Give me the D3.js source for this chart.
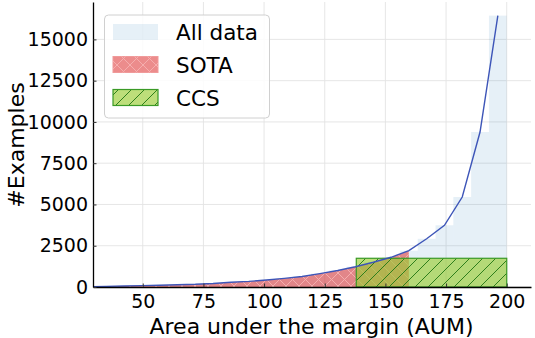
<!DOCTYPE html>
<html>
<head>
<meta charset="utf-8">
<script src="https://cdn.jsdelivr.net/npm/d3@7"></script>
<style>
body { margin: 0; background: #fff; }
text { font-family: "DejaVu Sans", sans-serif; }
</style>
</head>
<body>
<svg width="535" height="338"></svg>
<script>
// histogram bin edges and counts
var binEdges = [24, 31.33, 38.67, 46, 53.33, 60.67, 68, 75.33, 82.67, 90, 97.33, 104.67, 112,
    119.33, 126.67, 134, 141.33, 148.67, 156, 163.33, 170.67, 178, 185.33, 192.67, 200];
var counts = [20, 40, 60, 85, 110, 140, 165, 215, 290, 340, 420, 520, 640, 810, 1000, 1230,
    1500, 1800, 2200, 2920, 3740, 5450, 9390, 16440];
var sotaMax = 160;          // SOTA area covers the curve up to here
var ccsRange = [138, 200];  // CCS block
var ccsCount = 1740;
var xTicks = [50, 75, 100, 125, 150, 175, 200];
var yTicks = [0, 2500, 5000, 7500, 10000, 12500, 15000];
var legendNames = ["All data", "SOTA", "CCS"];

var pLeft = 93, pRight = 531, pTop = 2, pBottom = 287;
var svg = d3.select("svg");

var x = d3.scaleLinear().domain([29.5, 210]).range([pLeft, pRight]);
var y = d3.scaleLinear().domain([0, 17266]).range([pBottom, pTop]);

var bins = counts.map(function(c, i) {
    return {x0: binEdges[i], x1: binEdges[i + 1], xc: (binEdges[i] + binEdges[i + 1]) / 2, n: c};
});

var defs = svg.append("defs");
defs.append("clipPath").attr("id", "plotclip")
    .append("rect").attr("x", pLeft).attr("y", pTop)
    .attr("width", pRight - pLeft).attr("height", pBottom - pTop);

var px = defs.append("pattern").attr("id", "hatchx")
    .attr("patternUnits", "userSpaceOnUse").attr("width", 13).attr("height", 13);
px.append("path").attr("d", "M0,0L13,13M0,13L13,0")
    .attr("stroke", "#f5aeae").attr("stroke-width", 1);

var ps = defs.append("pattern").attr("id", "hatchs")
    .attr("patternUnits", "userSpaceOnUse").attr("width", 13).attr("height", 13);
ps.append("path").attr("d", "M0,13L13,0M-2,2L2,-2M11,15L15,11")
    .attr("stroke", "#2f7f1c").attr("stroke-width", 1);

// grid
svg.append("g").selectAll("line").data(xTicks).enter().append("line")
    .attr("x1", function(d) { return x(d); }).attr("x2", function(d) { return x(d); })
    .attr("y1", pTop).attr("y2", pBottom)
    .attr("stroke", "#e3e3e3").attr("stroke-width", 0.9);
svg.append("g").selectAll("line").data(yTicks).enter().append("line")
    .attr("x1", pLeft).attr("x2", pRight)
    .attr("y1", function(d) { return y(d); }).attr("y2", function(d) { return y(d); })
    .attr("stroke", "#e3e3e3").attr("stroke-width", 0.9);

var plot = svg.append("g").attr("clip-path", "url(#plotclip)");

// all data histogram
plot.selectAll("rect.bar").data(bins).enter().append("rect")
    .attr("class", "bar")
    .attr("x", function(d) { return x(d.x0); })
    .attr("width", function(d) { return x(d.x1) - x(d.x0); })
    .attr("y", function(d) { return y(d.n); })
    .attr("height", function(d) { return y(0) - y(d.n); })
    .attr("fill", "#1f77b4").attr("fill-opacity", 0.11);

// SOTA area
var sotaPts = bins.filter(function(d) { return d.xc <= sotaMax; });
var area = d3.area()
    .x(function(d) { return x(d.xc); })
    .y0(y(0))
    .y1(function(d) { return y(d.n); });
plot.append("path").datum(sotaPts).attr("d", area)
    .attr("fill", "#e04040").attr("fill-opacity", 0.6);
plot.append("path").datum(sotaPts).attr("d", area)
    .attr("fill", "url(#hatchx)");

// CCS block
var ccs = plot.append("g");
ccs.append("rect")
    .attr("x", x(ccsRange[0])).attr("width", x(ccsRange[1]) - x(ccsRange[0]))
    .attr("y", y(ccsCount)).attr("height", y(0) - y(ccsCount))
    .attr("fill", "#9acd32").attr("fill-opacity", 0.65);
ccs.append("rect")
    .attr("x", x(ccsRange[0])).attr("width", x(ccsRange[1]) - x(ccsRange[0]))
    .attr("y", y(ccsCount)).attr("height", y(0) - y(ccsCount))
    .attr("fill", "url(#hatchs)")
    .attr("stroke", "#3a9a26").attr("stroke-width", 1.2);

// curve
plot.append("path").datum(bins)
    .attr("d", d3.line().x(function(d) { return x(d.xc); }).y(function(d) { return y(d.n); }))
    .attr("fill", "none").attr("stroke", "#3d55b8").attr("stroke-width", 1.4);

// axes
var xAxis = d3.axisBottom(x).tickValues(xTicks).tickFormat(d3.format("d"))
    .tickSizeInner(-3.5).tickSizeOuter(0).tickPadding(8);
var yAxis = d3.axisLeft(y).tickValues(yTicks).tickFormat(d3.format("d"))
    .tickSizeInner(-3.5).tickSizeOuter(0).tickPadding(5);

var gx = svg.append("g").attr("transform", "translate(0," + pBottom + ")").call(xAxis);
var gy = svg.append("g").attr("transform", "translate(" + pLeft + ",0)").call(yAxis);
[gx, gy].forEach(function(g) {
    g.select(".domain").attr("stroke", "#000").attr("stroke-width", 1.3);
    g.selectAll(".tick line").attr("stroke", "#333").attr("stroke-width", 1);
    g.selectAll(".tick text").attr("fill", "#000")
        .style("font-family", "DejaVu Sans").style("font-size", "19px");
});

svg.append("text").attr("x", 311.5).attr("y", 334)
    .attr("text-anchor", "middle").style("font-size", "22px")
    .text("Area under the margin (AUM)");
svg.append("text").attr("transform", "translate(24,145) rotate(-90)")
    .attr("text-anchor", "middle").style("font-size", "22px")
    .text("#Examples");

// legend
var lg = svg.append("g");
lg.append("rect").attr("x", 104.5).attr("y", 15).attr("width", 165).attr("height", 103)
    .attr("rx", 4).attr("fill", "#fff").attr("fill-opacity", 0.85)
    .attr("stroke", "#d0d0d0").attr("stroke-width", 1);
var rows = [24, 56.5, 89.5];
lg.append("rect").attr("x", 113).attr("y", rows[0]).attr("width", 45).attr("height", 16)
    .attr("fill", "#1f77b4").attr("fill-opacity", 0.11);
lg.append("rect").attr("x", 113).attr("y", rows[1]).attr("width", 45).attr("height", 16)
    .attr("fill", "#e04040").attr("fill-opacity", 0.6)
    .attr("stroke", "#f09a9a").attr("stroke-width", 1);
lg.append("rect").attr("x", 113).attr("y", rows[1]).attr("width", 45).attr("height", 16)
    .attr("fill", "url(#hatchx)");
lg.append("rect").attr("x", 113).attr("y", rows[2]).attr("width", 45).attr("height", 16)
    .attr("fill", "#9acd32").attr("fill-opacity", 0.65);
lg.append("rect").attr("x", 113).attr("y", rows[2]).attr("width", 45).attr("height", 16)
    .attr("fill", "url(#hatchs)").attr("stroke", "#3a9a26").attr("stroke-width", 1.2);
lg.selectAll("text.leg").data(legendNames).enter().append("text")
    .attr("class", "leg")
    .attr("x", 176).attr("y", function(d, i) { return rows[i] + 16; })
    .style("font-size", "21.5px")
    .text(function(d) { return d; });
</script>
</body>
</html>
